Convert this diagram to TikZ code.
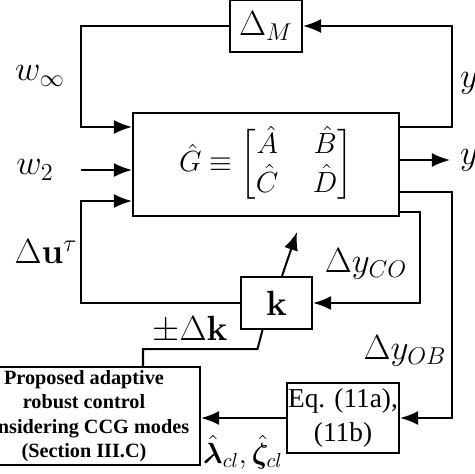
\documentclass[tikz,border=0pt]{standalone}
\usepackage{amsmath}
\usepackage{amssymb}
\usepackage{bm}
\usepackage[no-math]{fontspec}
\setmainfont{Liberation Serif}
\usetikzlibrary{arrows.meta,calc}
\newcommand{\pxl}{0.494pt}

\begin{document}
\begin{tikzpicture}[x=0.494pt,y=-0.494pt,line width=1pt,>={Latex[length=9pt,width=7pt]},
  blk/.style={draw,inner sep=0pt,align=center},
  lbl/.style={inner sep=0pt,font=\LARGE}]
\useasboundingbox (0,0) rectangle (474,474);
\clip (0,0) rectangle (474,474);
% blocks
\node[blk,font=\LARGE,minimum width=72*\pxl,minimum height=52*\pxl] (dm) at (266,26) {$\Delta_M$};
\node[blk,font=\Large,minimum width=266*\pxl,minimum height=103*\pxl] (G) at (266,164.5)
  {$\hat{G}\equiv\begin{bmatrix}\hat{A} & \hspace{7pt}\hat{B}\\ \hat{C} & \hspace{7pt}\hat{D}\end{bmatrix}$};
\node[blk,font=\LARGE,minimum width=71*\pxl,minimum height=52*\pxl] (k) at (276.5,303) {$\mathbf{k}$};
\node[blk,font=\fontsize{13.5pt}{17pt}\selectfont,minimum width=112*\pxl,minimum height=70*\pxl] (eq) at (343,418) {Eq. (11a),\\(11b)};
\node[blk,font=\bfseries,minimum width=232*\pxl,minimum height=98*\pxl] (ad) at (84,416)
  {Proposed adaptive\\robust control\\considering CCG modes\\(Section III.C)};
% labels
\node[lbl] (winf) at (40,76) {$w_\infty$};
\node[lbl] (w2) at (35,170) {$w_2$};
\node[lbl,anchor=west] (yinf) at (459,83) {$y_\infty$};
\node[lbl,anchor=west] (y2) at (459,160) {$y_2$};
\node[lbl] (du) at (46,252) {$\Delta\mathbf{u}^\tau$};
\node[lbl] (dyco) at (366,264) {$\Delta y_{CO}$};
\node[lbl] (dk) at (190,330) {$\pm\Delta\mathbf{k}$};
\node[lbl] (dyob) at (405,351) {$\Delta y_{OB}$};
\node[lbl,font=\Large] (lz) at (243,452) {$\hat{\bm{\lambda}}_{cl},\hat{\bm{\zeta}}_{cl}$};
\coordinate (kup) at (297,232);
% connectors
\draw[->] (dm.west) -| ($(G.north west)+(-51,15)$) -- ($(G.north west)+(0,15)$);
\draw[->] ($(G.north east)+(0,15)$) -| ($(dm.east)+(149,0)$) -- (dm.east);
\draw[->] ($(G.west |- w2)+(-51,0)$) -- (G.west |- w2);
\draw[->] (k.west) -| ($(G.south west)+(-51,-16)$) -- ($(G.south west)+(0,-16)$);
\draw[->] (G.east |- y2) -- ($(y2.west)+(-9,0)$);
\draw[->] ($(G.south east)+(0,-25)$) -| ($(eq.east)+(52,0)$) -- (eq.east);
\draw[->] ($(G.south east)+(0,-5)$) -| ($(k.east)+(107,0)$) -- (k.east);
\draw[->] ($(k.north)+(5.5,0)$) -- (kup);
\draw ($(k.south)+(-14,0)$) -- ($(k.south)+(-19,19)$) -| ($(ad.north)+(59,0)$);
\draw[->] (eq.west) -- (eq.west -| ad.east);
\end{tikzpicture}
\end{document}
